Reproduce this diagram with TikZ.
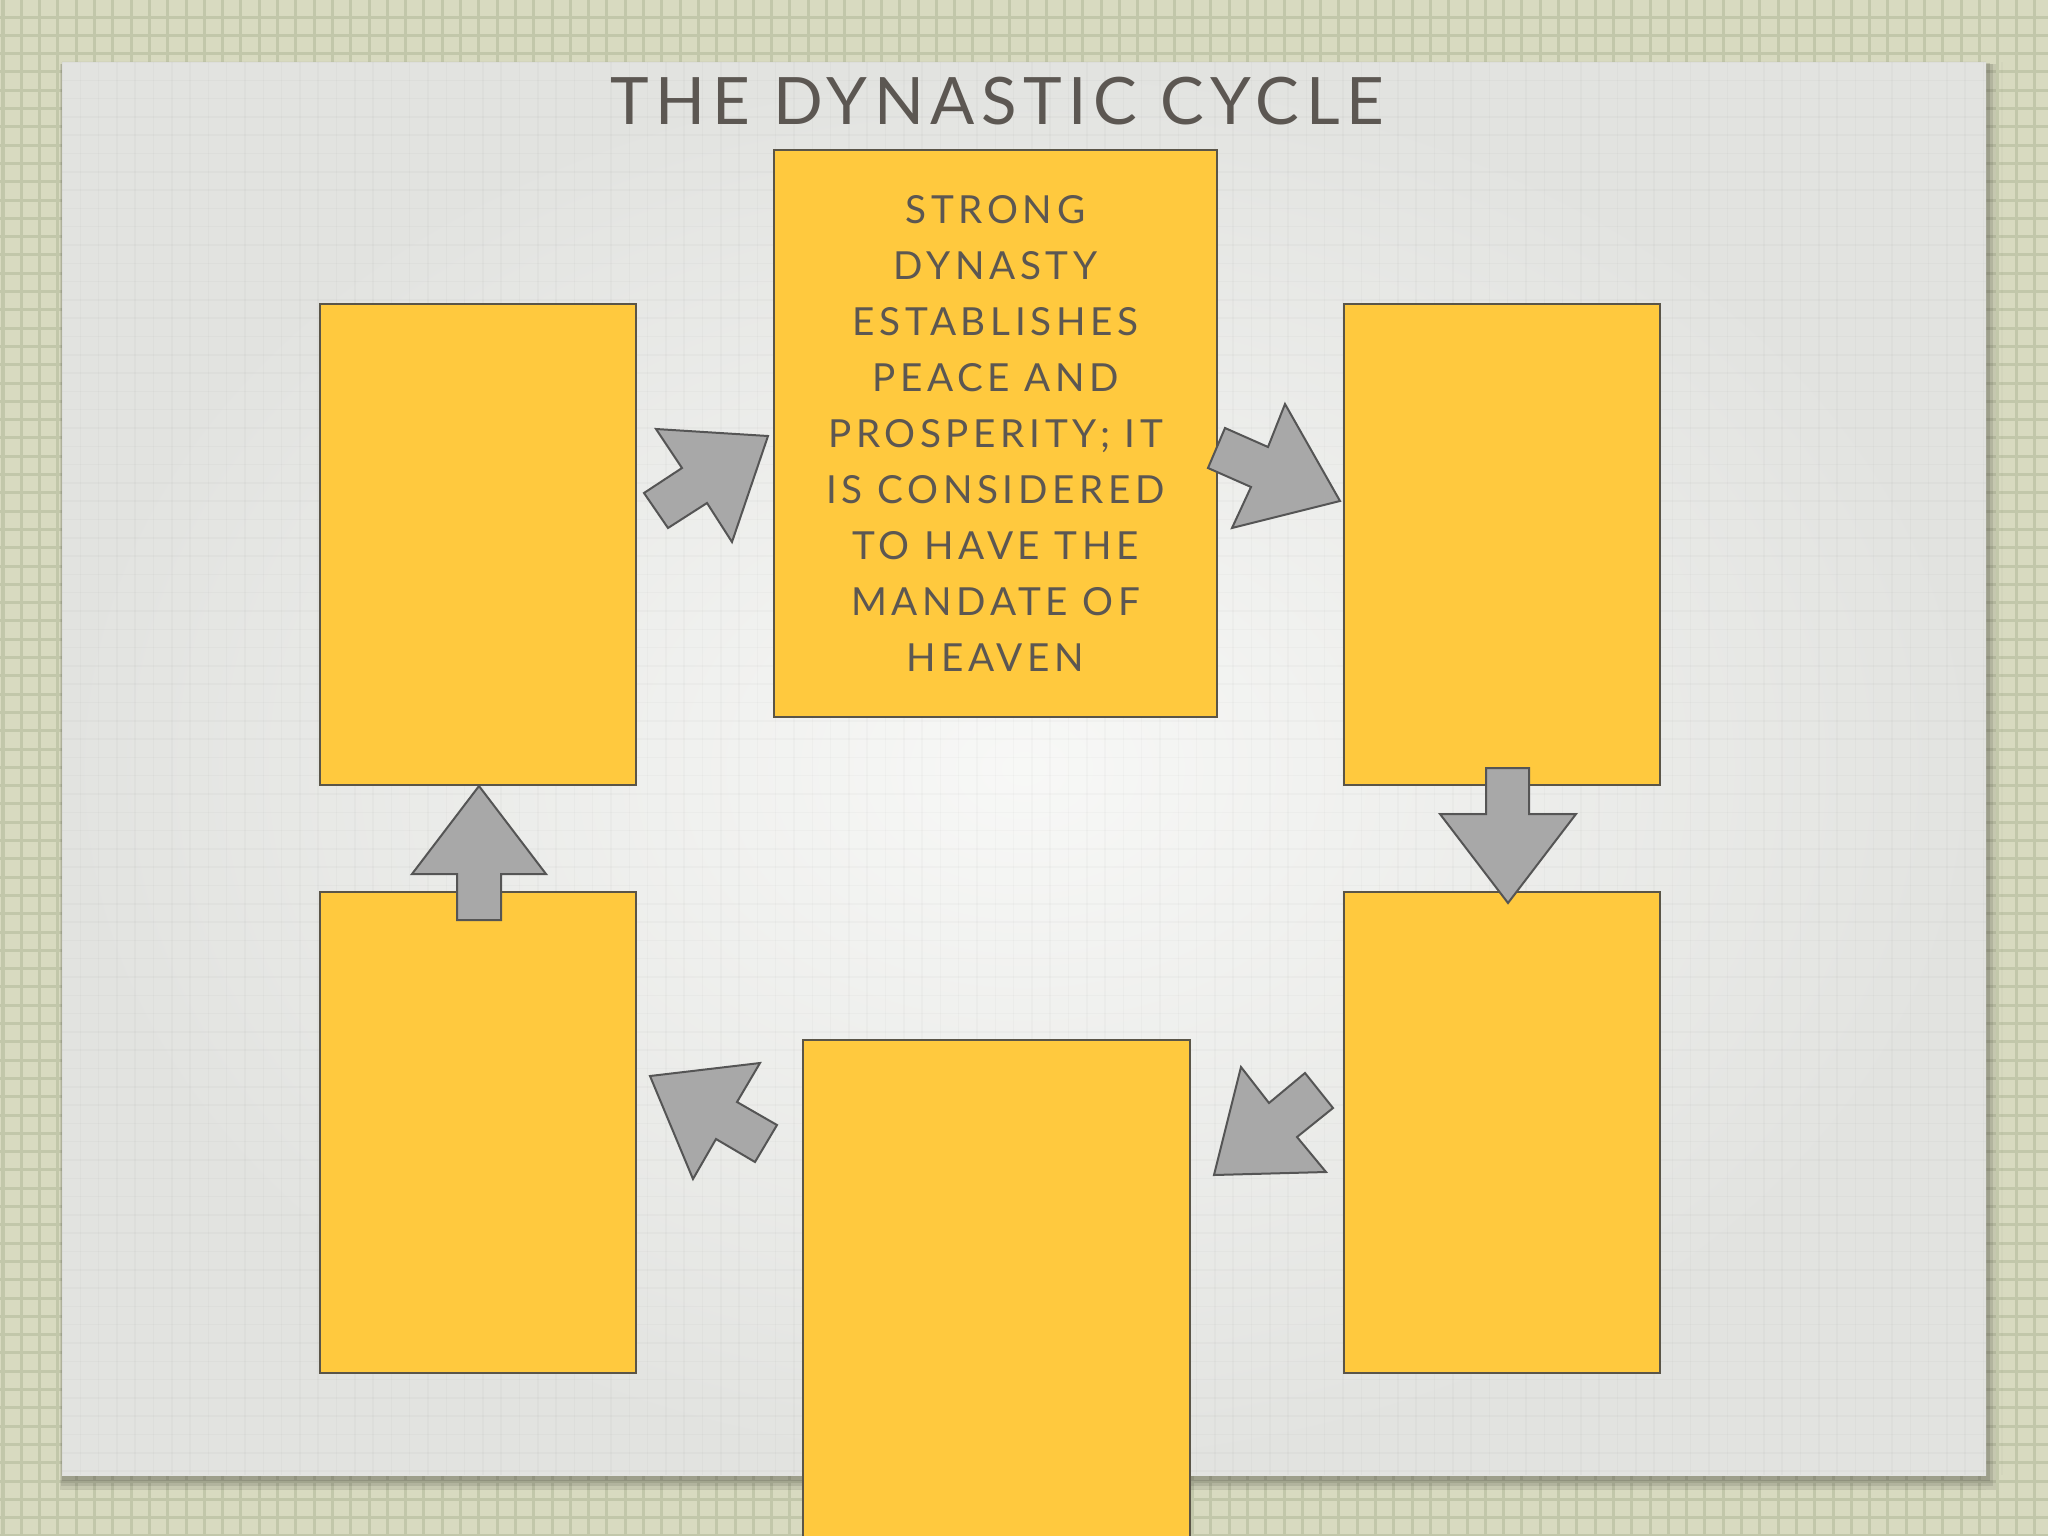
\documentclass[tikz,border=0pt]{standalone}
\usepackage{fontspec}
\setmainfont{Lato}
\definecolor{bggreen}{RGB}{216,218,192}
\definecolor{gridline}{RGB}{194,199,170}
\definecolor{paper}{RGB}{240,241,238}
\definecolor{paperedge}{RGB}{226,227,224}
\definecolor{boxfill}{RGB}{255,201,62}
\definecolor{boxline}{RGB}{90,85,72}
\definecolor{arrfill}{RGB}{168,168,168}
\definecolor{arrline}{RGB}{85,85,85}
\definecolor{txt}{RGB}{92,87,82}
\tikzset{
  ybox/.style={draw=boxline, fill=boxfill, line width=0.018cm, inner sep=0pt},
  blockarrow/.style={draw=arrline, fill=arrfill, line width=0.02cm, line join=miter},
  boxtext/.style={text=txt, font=\fontsize{11pt}{15.9pt}\selectfont\addfontfeature{LetterSpace=12}, align=center},
  titletext/.style={text=txt, font=\fontsize{18.6pt}{22pt}\selectfont\addfontfeature{LetterSpace=10}}
}
\begin{document}
\begin{tikzpicture}[x=0.01cm,y=-0.01cm]
\clip (0,0) rectangle (2048,1536);
% background grid
\fill[bggreen] (0,0) rectangle (2048,1536);
\foreach \i in {0,...,114} {
  \draw[gridline, line width=0.03cm] (\i*18.3+3,0) -- (\i*18.3+3,1536);
}
\foreach \j in {0,...,86} {
  \draw[gridline, line width=0.03cm] (0,\j*18.3+17) -- (2048,\j*18.3+17);
}
% paper shadow
\fill[black!70!bggreen, opacity=0.12] (60,64) rectangle (1996,1490);
\fill[black!70!bggreen, opacity=0.14] (61,64) rectangle (1993,1486);
\fill[black!70!bggreen, opacity=0.18] (62,63) rectangle (1990,1481);
% paper
\shade[inner color=paper!50!white, outer color=paperedge] (62,62) rectangle (1986,1475);
\foreach \i in {0,...,106} {
  \draw[black, opacity=0.018, line width=0.015cm] (\i*18.3+62,62) -- (\i*18.3+62,1475);
}
\foreach \j in {0,...,78} {
  \draw[black, opacity=0.018, line width=0.015cm] (62,\j*18.3+62) -- (1986,\j*18.3+62);
}
% title
\node[titletext, anchor=base] (title) at (997,124) {THE DYNASTIC CYCLE};
% boxes
\node[ybox, minimum width=4.43cm, minimum height=5.67cm] (top) at (995.5,433.5) {};
\node[boxtext] (toptext) at (top.center) {STRONG\\DYNASTY\\ESTABLISHES\\PEACE AND\\PROSPERITY; IT\\IS CONSIDERED\\TO HAVE THE\\MANDATE OF\\HEAVEN};
\node[ybox, minimum width=3.16cm, minimum height=4.81cm] (lt) at (478,544.5) {};
\node[ybox, minimum width=3.16cm, minimum height=4.81cm] (rt) at (1502,544.5) {};
\node[ybox, minimum width=3.16cm, minimum height=4.81cm] (lb) at (478,1132.5) {};
\node[ybox, minimum width=3.16cm, minimum height=4.81cm] (rb) at (1502,1132.5) {};
\node[ybox, minimum width=3.87cm, minimum height=5.2cm] (bot) at (996.5,1300) {};
% block arrows
\draw[blockarrow] (656,429) -- (768,436) -- (732,542) -- (707,503) -- (668,528) -- (644,493) -- (682,468) -- cycle;
\draw[blockarrow] (1225,428) -- (1268,447) -- (1285,404) -- (1340,501) -- (1232,528) -- (1251,487) -- (1208,468) -- cycle;
\draw[blockarrow] (1486,768) -- (1529,768) -- (1529,814) -- (1576,814) -- (1508,903) -- (1440,814) -- (1486,814) -- cycle;
\draw[blockarrow] (1241,1067) -- (1269,1103) -- (1305,1073) -- (1333,1108) -- (1297,1137) -- (1326,1172) -- (1214,1175) -- cycle;
\draw[blockarrow] (650,1076) -- (760,1063) -- (737,1102) -- (777,1125) -- (755,1162) -- (716,1139) -- (693,1179) -- cycle;
\draw[blockarrow] (479,786) -- (546,874) -- (501,874) -- (501,920) -- (457,920) -- (457,874) -- (412,874) -- cycle;
\end{tikzpicture}
\end{document}
